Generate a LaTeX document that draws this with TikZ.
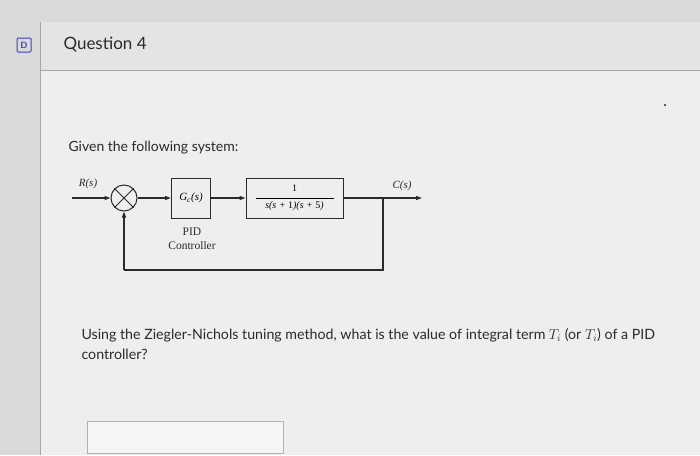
\documentclass[tikz,border=0pt]{standalone}
\usepackage{fontspec}
\setmainfont{Lato}
\newfontfamily\dserif{Liberation Serif}
\usetikzlibrary{arrows.meta}
\definecolor{bg}{HTML}{D9D9D9}
\definecolor{panel}{HTML}{EEEEEE}
\definecolor{hdr}{HTML}{E4E4E4}
\definecolor{ink}{HTML}{2A2A2A}
\tikzset{blk/.style={draw=ink,line width=1pt,fill=panel,minimum height=40pt,inner sep=2pt,font=\dserif\fontsize{11}{13}\selectfont},
 sig/.style={draw=ink,line width=1.3pt,-{Triangle[length=6pt,width=4pt]}},
 wire/.style={draw=ink,line width=1.3pt},
 lbl/.style={font=\dserif\fontsize{10}{12}\selectfont,text=ink}}
\begin{document}
\begin{tikzpicture}[x=1pt,y=-1pt]
\useasboundingbox (0,0) rectangle (700,455);
\fill[bg] (0,0) rectangle (700,455);
\fill[hdr] (40,22) rectangle (700,70);
\fill[panel] (40,71) rectangle (700,455);
\draw[gray!70] (40,70.5) -- (700,70.5);
\draw[gray!70] (40,22) -- (40,455);
\node[draw=blue!50!gray,line width=1pt,rounded corners=1pt,minimum size=14pt,inner sep=0pt,font=\sffamily\bfseries\small,text=blue!50!gray] (icon) at (24,45) {D};
\node[anchor=west,font=\fontsize{17}{20}\selectfont,text=ink] (q) at (60,45) {Question 4};
\node[anchor=west,font=\fontsize{14}{16}\selectfont,text=ink] (given) at (65,148) {Given the following system:};
% diagram
\coordinate (in) at (72,198);
\node[lbl,font=\dserif\itshape\fontsize{11}{12}\selectfont] (R) at (88,184) {R(s)};
\node[draw=ink,line width=1pt,circle,minimum size=26pt,inner sep=0pt] (sum) at (124,198) {};
\draw[ink,line width=0.8pt] (sum.45) -- (sum.225) (sum.135) -- (sum.315);
\node[blk,minimum width=39pt] (gc) at (191,198) {\itshape G\textsubscript{c}(s)};
\node[blk,minimum width=97pt,font=\dserif\fontsize{10}{11}\selectfont] (gp) at (294.5,198) {\begin{tabular}{@{}c@{}}1\\[-4pt]\rule{78pt}{0.5pt}\\[-1pt]\itshape s(s + \upshape 1\itshape)(s + \upshape 5\itshape)\end{tabular}};
\node[lbl,font=\dserif\itshape\fontsize{11}{12}\selectfont] (C) at (402,186) {C(s)};
\coordinate (out) at (422,198);
\coordinate (br) at (383,198);
\coordinate (b1) at (383,270);
\coordinate (b2) at (124,270);
\node[lbl,align=center,font=\dserif\fontsize{11.5}{14}\selectfont] (pid) at (192,239) {PID\\Controller};
\draw[sig] (in) -- (sum.west);
\draw[sig] (sum.east) -- (gc.west);
\draw[sig] (gc.east) -- (gp.west);
\draw[sig] (gp.east) -- (out);
\draw[wire] (br) -- (b1) -- (b2);
\draw[sig] (b2) -- (sum.south);
\fill[ink] (665,105) circle (1.2pt);
\node[anchor=west,font=\fontsize{14.2}{17}\selectfont,text=ink,align=left] (txt) at (78,344) {Using the Ziegler-Nichols tuning method, what is the value of integral term $T_i$ (or $T_i$) of a PID\\[3pt]controller?};
\node[draw=gray!60,fill=panel!60!white,minimum width=196pt,minimum height=32pt,inner sep=0pt] (ans) at (185,437) {};
\end{tikzpicture}
\end{document}
